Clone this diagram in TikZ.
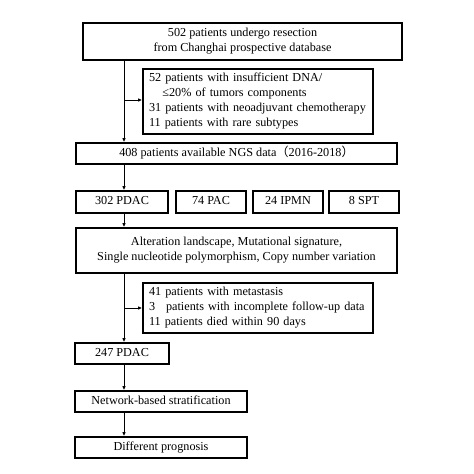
\documentclass[tikz,border=0pt]{standalone}
\usepackage{fontspec}
\setmainfont{Liberation Serif}
\newfontfamily\cjk{Noto Sans CJK SC}
\usetikzlibrary{arrows.meta}

\begin{document}
\begin{tikzpicture}[x=1pt,y=-1pt,
    font=\fontsize{12.2}{15}\selectfont,
    flowbox/.style={rectangle,draw,line width=1.6pt,inner sep=0pt,align=center},
    linebox/.style={flowbox,text height=8.5pt,text depth=2.6pt},
    link/.style={line width=0.9pt,-{Latex[length=4pt,width=3.5pt]}}]
  \useasboundingbox (0,0) rectangle (474,474);

%% main stages
  \node[flowbox,minimum width=319pt,minimum height=37pt] (resect) at (242.5,41.5)
    {502 patients undergo resection\\from Changhai prospective database};
  \node[flowbox,minimum width=230pt,minimum height=65pt,text width=218pt,align=left] (excl-dna) at (258,101.5)
    {52 patients with insufficient DNA/\\\hspace*{1.1em}≤20\% of tumors components\\31 patients with neoadjuvant chemotherapy\\11 patients with rare subtypes};
  \node[linebox,minimum width=321pt,minimum height=21pt] (ngs) at (236.5,153.5)
    {408 patients available NGS data{\cjk（}2016-2018{\cjk）}};

%% subtypes
  \node[linebox,minimum width=92pt,minimum height=22pt] (pdac) at (122,202) {302 PDAC};
  \node[linebox,minimum width=70pt,minimum height=22pt] (pac)  at (211,202) {74 PAC};
  \node[linebox,minimum width=70pt,minimum height=22pt] (ipmn) at (288,202) {24 IPMN};
  \node[linebox,minimum width=70pt,minimum height=22pt] (spt)  at (364,202) {8 SPT};

  \node[flowbox,minimum width=321pt,minimum height=45pt] (landscape) at (236.5,250.5)
    {Alteration landscape, Mutational signature,\\Single nucleotide polymorphism, Copy number variation};
  \node[flowbox,minimum width=230pt,minimum height=50pt,text width=218pt,align=left] (excl-fu) at (258,308)
    {41 patients with metastasis\\3\hspace{0.9em}patients with incomplete follow-up data\\11 patients died within 90 days};
  \node[linebox,minimum width=94pt,minimum height=21pt] (pdac-final) at (122,353.5) {247 PDAC};
  \node[linebox,minimum width=172pt,minimum height=21pt] (strat) at (161,401.5) {Network-based stratification};
  \node[linebox,minimum width=172pt,minimum height=21pt] (prog)  at (161,447.5) {Different prognosis};

%% connections along the trunk
  \coordinate (trunk) at (124,0);
  \coordinate (split-dna) at (124,100);
  \coordinate (split-fu)  at (124,308);
  \draw[link] (resect.south -| trunk) -- (ngs.north -| trunk);
  \draw[link] (split-dna) -- (split-dna -| excl-dna.west);
  \draw[link] (ngs.south -| trunk) -- (pdac.north -| trunk);
  \draw[link] (pdac.south -| trunk) -- (landscape.north -| trunk);
  \draw[link] (landscape.south -| trunk) -- (pdac-final.north -| trunk);
  \draw[link] (split-fu) -- (split-fu -| excl-fu.west);
  \draw[link] (pdac-final.south -| trunk) -- (strat.north -| trunk);
  \draw[link] (strat.south -| trunk) -- (prog.north -| trunk);
\end{tikzpicture}
\end{document}
